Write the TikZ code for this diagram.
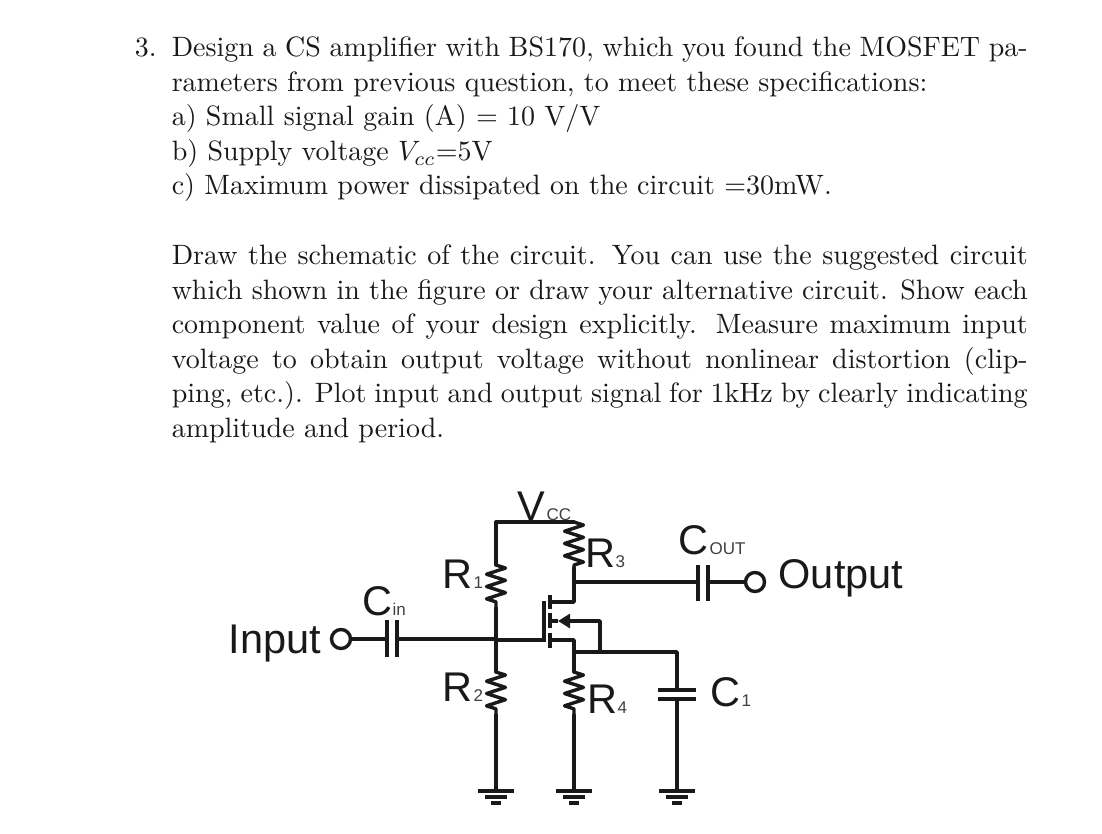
\documentclass[tikz,border=0pt]{standalone}
\usepackage{amsmath}
\usepackage{fontspec}
\newfontfamily\schemfont{Liberation Sans}
\usetikzlibrary{arrows.meta,decorations.pathmorphing}

\newcommand{\fullline}[1]{\makebox[305.7pt][s]{#1}}

\begin{document}
\begin{tikzpicture}[
    x=1pt, y=-1pt,
    line width=3.4pt, % line style
    wire/.style={draw=black!90, line cap=round, line join=round},
    resistor/.style={wire, decorate, decoration={zigzag, segment length=12.3pt, amplitude=9.5pt}},
    plate/.style={wire, line cap=butt},
    terminal/.style={circle, draw=black!90, inner sep=0pt, minimum size=19pt},
    textline/.style={anchor=base west, inner sep=0pt, scale=2.8, font=\fontsize{10}{12}\selectfont, text=black!90},
    label/.style={anchor=base west, inner sep=0pt, font=\schemfont\fontsize{41.5}{41.5}\selectfont, text=black!90},
    sublabel/.style={anchor=base west, inner sep=0pt, font=\schemfont\fontsize{17}{17}\selectfont, text=black!75},
    gnd/.pic={
        \draw[plate] (-18,0) -- (18,0);
        \draw[plate] (-11,6) -- (11,6);
        \draw[plate] (-5,12) -- (5,12);
    },
]
\useasboundingbox (0,0) rectangle (1102,834);

% question text
\node[textline] (num) at (130,57) {3.};
\node[textline] (q1) at (167,57) {\fullline{Design a CS amplifier with BS170, which you found the MOSFET pa-}};
\node[textline] (q2) at (167,92) {rameters from previous question, to meet these specifications:};
\node[textline] (q3) at (167,126) {a) Small signal gain (A) $=$ 10 V/V};
\node[textline] (q4) at (167,161) {b) Supply voltage $V_{cc}$=5V};
\node[textline] (q5) at (167,195) {c) Maximum power dissipated on the circuit =30mW.};
\node[textline] (p1) at (167,264) {\fullline{Draw the schematic of the circuit. You can use the suggested circuit}};
\node[textline] (p2) at (167,299) {\fullline{which shown in the figure or draw your alternative circuit. Show each}};
\node[textline] (p3) at (167,333) {\fullline{component value of your design explicitly. Measure maximum input}};
\node[textline] (p4) at (167,368) {\fullline{voltage to obtain output voltage without nonlinear distortion (clip-}};
\node[textline] (p5) at (167,402) {\fullline{ping, etc.). Plot input and output signal for 1kHz by clearly indicating}};
\node[textline] (p6) at (167,437) {amplitude and period.};

% circuit points
\coordinate (top1) at (496,522);
\coordinate (top3) at (574,522);
\coordinate (r1a) at (496,565);
\coordinate (r1b) at (496,608);
\coordinate (gate) at (496,640);
\coordinate (r2a) at (496,672);
\coordinate (r2b) at (496,715);
\coordinate (gnd2) at (496,791);
\coordinate (r3b) at (574,568);
\coordinate (out) at (574,582);
\coordinate (drain) at (574,602);
\coordinate (source) at (574,640);
\coordinate (srcjoin) at (574,652);
\coordinate (r4a) at (574,672);
\coordinate (r4b) at (574,715);
\coordinate (gnd4) at (574,791);
\coordinate (bodyjoin) at (600,652);
\coordinate (bodyend) at (600,621);
\coordinate (c1top) at (677,652);
\coordinate (c1a) at (677,690);
\coordinate (c1b) at (677,699);
\coordinate (gndc) at (677,791);
\coordinate (gateplate) at (544,640);

% supply and bias
\draw[wire] (r1a) -- (top1) -- (top3);
\draw[resistor] (top3) -- (r3b);
\draw[resistor] (r1a) -- (r1b);
\draw[wire] (r1b) -- (gate) -- (r2a);
\draw[resistor] (r2a) -- (r2b);
\draw[wire] (r2b) -- (gnd2);
\pic at (gnd2) {gnd};

% mosfet
\draw[plate] (544,601) -- (544,642);
\draw[plate] (550,595) -- (550,609);
\draw[plate] (550,613) -- (550,628);
\draw[plate] (550,633) -- (550,648);
\draw[wire] (gate) -- (gateplate);
\draw[wire] (r3b) -- (drain) -- (550,602);
\draw[wire] (550,640) -- (source) -- (r4a);
\draw[wire] (bodyjoin) -- (bodyend) -- (570,621);
\draw[plate, -{Triangle[length=12pt,width=14pt]}] (572,621) -- (558,621);
\draw[plate] (558,621) -- (550,621);

% source side
\draw[resistor] (r4a) -- (r4b);
\draw[wire] (r4b) -- (gnd4);
\pic at (gnd4) {gnd};
\draw[wire] (srcjoin) -- (c1top) -- (c1a);
\draw[plate] (658,690) -- (696,690);
\draw[plate] (658,699) -- (696,699);
\draw[wire] (c1b) -- (gndc);
\pic at (gndc) {gnd};

% input and output
\node[terminal] (input) at (341,639) {};
\node[terminal] (output) at (755,582) {};
\coordinate (cina) at (387,639);
\coordinate (cinb) at (397,639);
\coordinate (cinend) at (496,639);
\coordinate (couta) at (698,582);
\coordinate (coutb) at (708,582);
\draw[wire] (input) -- (cina);
\draw[plate] (387,620) -- (387,657);
\draw[plate] (397,620) -- (397,657);
\draw[wire] (cinb) -- (cinend);
\draw[wire] (out) -- (couta);
\draw[plate] (698,565) -- (698,601);
\draw[plate] (708,565) -- (708,601);
\draw[wire] (coutb) -- (output);

% labels
\node[label] (inlabel) at (227,653) {Input};
\node[label] (outlabel) at (777,588) {Output};
\node[label] (vlabel) at (516,520) {V};
\node[sublabel] (vsub) at (545,520) {CC};
\node[label] (r1label) at (441,588) {R};
\node[sublabel] (r1sub) at (472,588) {1};
\node[label] (r2label) at (441,701) {R};
\node[sublabel] (r2sub) at (472,701) {2};
\node[label] (r3label) at (584,567) {R};
\node[sublabel] (r3sub) at (614,567) {3};
\node[label] (r4label) at (586,713) {R};
\node[sublabel] (r4sub) at (616,713) {4};
\node[label] (cinlabel) at (361,615) {C};
\node[sublabel] (cinsub) at (391,615) {in};
\node[label] (coutlabel) at (677,554) {C};
\node[sublabel] (coutsub) at (708,554) {OUT};
\node[label] (c1label) at (709,706) {C};
\node[sublabel] (c1sub) at (740,706) {1};
\end{tikzpicture}
\end{document}
